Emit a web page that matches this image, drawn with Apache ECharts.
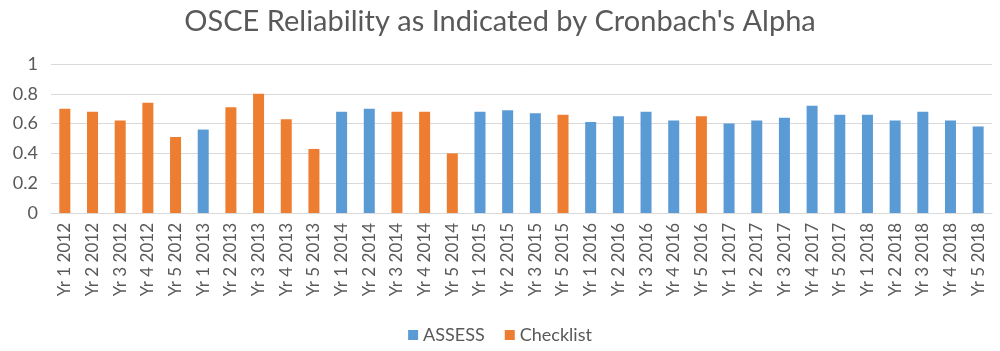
<!DOCTYPE html>
<html><head><meta charset="utf-8">
<script src="https://cdn.jsdelivr.net/npm/echarts@6/dist/echarts.min.js"></script>
<style>html,body{margin:0;padding:0;background:#fff}#c{width:1000px;height:351px}</style>
</head><body><div id="c"></div>
<script>
const categories = ["Yr 1 2012","Yr 2 2012","Yr 3 2012","Yr 4 2012","Yr 5 2012",
"Yr 1 2013","Yr 2 2013","Yr 3 2013","Yr 4 2013","Yr 5 2013",
"Yr 1 2014","Yr 2 2014","Yr 3 2014","Yr 4 2014","Yr 5 2014",
"Yr 1 2015","Yr 2 2015","Yr 3 2015","Yr 5 2015",
"Yr 1 2016","Yr 2 2016","Yr 3 2016","Yr 4 2016","Yr 5 2016",
"Yr 1 2017","Yr 2 2017","Yr 3 2017","Yr 4 2017","Yr 5 2017",
"Yr 1 2018","Yr 2 2018","Yr 3 2018","Yr 4 2018","Yr 5 2018"];
const assess = [null,null,null,null,null,
0.56,null,null,null,null,
0.68,0.70,null,null,null,
0.68,0.69,0.67,null,
0.61,0.65,0.68,0.62,null,
0.60,0.62,0.64,0.72,0.66,
0.66,0.62,0.68,0.62,0.58];
const checklist = [0.70,0.68,0.62,0.74,0.51,
null,0.71,0.80,0.63,0.43,
null,null,0.68,0.68,0.40,
null,null,null,0.66,
null,null,null,null,0.65,
null,null,null,null,null,
null,null,null,null,null];
const yTicks = [0,0.2,0.4,0.6,0.8,1];

const chart = echarts.init(document.getElementById('c'));
const txt = '#595959';
const ff = 'Lato';
chart.setOption({
  animation:false,
  title:{text:"OSCE Reliability as Indicated by Cronbach's Alpha",left:'center',top:2,
    textStyle:{fontFamily:ff,fontWeight:'normal',fontSize:29,color:txt}},
  legend:{bottom:2,left:'center',itemWidth:10,itemHeight:10,itemGap:20,itemTextGap:8,icon:'rect',
    textStyle:{fontFamily:ff,fontSize:18,color:txt},
    data:['ASSESS','Checklist']},
  grid:{left:51,right:8,top:64,bottom:138,containLabel:false},
  xAxis:{type:'category',data:categories,
    axisLine:{lineStyle:{color:'#D9D9D9',width:1}},axisTick:{show:false},
    axisLabel:{rotate:90,interval:0,margin:10,color:txt,fontFamily:ff,fontSize:17}},
  yAxis:{type:'value',min:0,max:1,interval:0.2,
    axisLine:{show:false},axisTick:{show:false},
    splitLine:{lineStyle:{color:'#D9D9D9',width:1}},
    axisLabel:{color:txt,fontFamily:ff,fontSize:18,margin:13,
      formatter:v=>{const t=yTicks.find(x=>Math.abs(x-v)<1e-9);return String(t)}}},
  series:[
    {name:'ASSESS',type:'bar',stack:'s',data:assess,barWidth:11,itemStyle:{color:'#5B9BD5'}},
    {name:'Checklist',type:'bar',stack:'s',data:checklist,barWidth:11,itemStyle:{color:'#ED7D31'}}
  ]
});
</script></body></html>
